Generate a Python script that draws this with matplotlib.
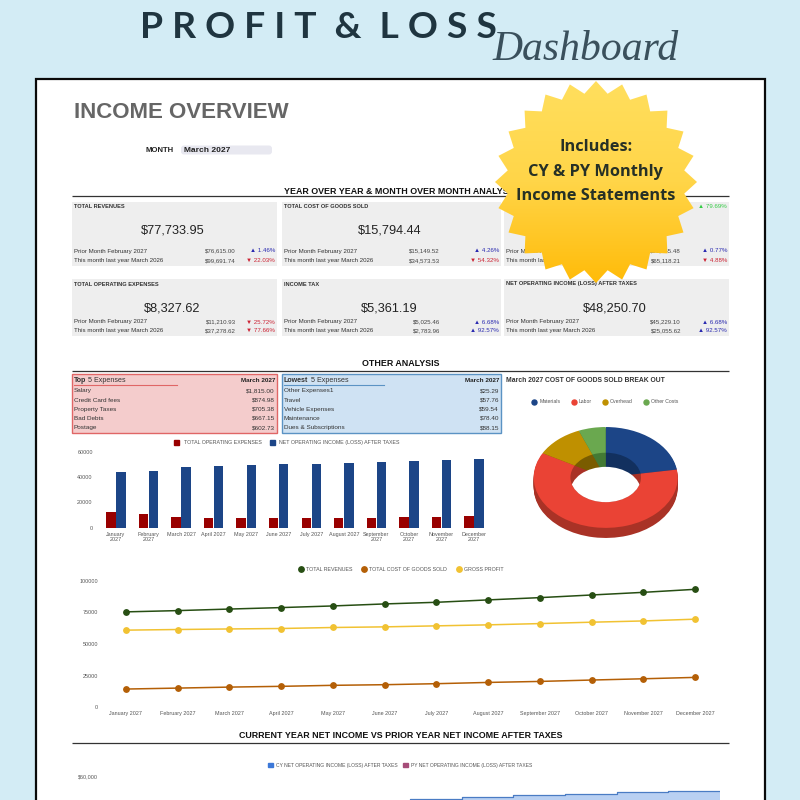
import matplotlib as mpl
import matplotlib.pyplot as plt
from matplotlib.lines import Line2D
from matplotlib.patches import Circle, Patch, Polygon, Rectangle
import numpy as np

mpl.rcParams["font.family"] = ["Liberation Sans", "DejaVu Sans"]

BG = "#d3ecf5"
W = H = 800

MONTHS_LONG = ["January 2027", "February 2027", "March 2027", "April 2027", "May 2027",
               "June 2027", "July 2027", "August 2027", "September 2027", "October 2027",
               "November 2027", "December 2027"]
MONTHS_WRAP = ["January\n2027", "February\n2027", "March 2027", "April 2027", "May 2027",
               "June 2027", "July 2027", "August 2027", "September\n2027", "October\n2027",
               "November\n2027", "December\n2027"]

# monthly series
opex = [12100, 11050, 8327, 8000, 7600, 7600, 7600, 8000, 8000, 8200, 8700, 9000]
net_income = [43700, 45000, 47600, 48400, 49200, 50000, 50500, 51300, 52100, 52600, 53400, 53900]
py_net_income = [21000, 23000, 25055, 25500, 26000, 26500, 27000, 27500, 28000, 28500, 29000, 29500]
revenues = [75500, 76500, 77733, 78900, 80200, 81800, 83100, 85000, 86800, 88900, 91000, 93400]
cogs = [14250, 15000, 15794, 16400, 17200, 17700, 18500, 19500, 20300, 21400, 22400, 23500]
gross_profit = [61000, 61500, 61940, 62300, 63100, 63600, 64400, 65200, 66200, 67300, 68300, 69700]

# KPI cards, row by row
card_titles = ["TOTAL REVENUES", "TOTAL COST OF GOODS SOLD", "GROSS PROFIT",
               "TOTAL OPERATING EXPENSES", "INCOME TAX", "NET OPERATING INCOME (LOSS) AFTER TAXES"]
card_values = ["$77,733.95", "$15,794.44", "$61,939.51", "$8,327.62", "$5,361.19", "$48,250.70"]
card_prior = ["$76,615.00", "$15,149.52", "$61,465.48", "$11,210.93", "$5,025.46", "$45,229.10"]
card_last_year = ["$99,691.74", "$34,573.53", "$65,118.21", "$37,278.62", "$2,783.96", "$25,055.62"]
card_prior_pct = [1.46, 4.26, 0.77, -25.72, 6.68, 6.68]
card_last_year_pct = [-22.03, -54.32, -4.88, -77.66, 92.57, 92.57]

top_names = ["Salary", "Credit Card fees", "Property Taxes", "Bad Debts", "Postage"]
top_values = ["$1,815.00", "$874.98", "$705.38", "$667.15", "$602.73"]
low_names = ["Other Expenses1", "Travel", "Vehicle Expenses", "Maintenance", "Dues & Subscriptions"]
low_values = ["$25.29", "$57.76", "$59.54", "$78.40", "$88.15"]

cost_labels = ["Materials", "Labor", "Overhead", "Other Costs"]
cost_shares = [22.5, 60.5, 10.9, 6.1]
cost_colors = ["#1c4587", "#ea4335", "#bf9000", "#6aa84f"]
cost_dark = ["#12305f", "#a93226", "#7a5c00", "#437a34"]


def axes_px(fig, x0, y0, x1, y1):
    """Axes from pixel box, y measured from the top of the picture."""
    ax = fig.add_axes([x0 / W, 1 - y1 / H, (x1 - x0) / W, (y1 - y0) / H])
    ax.patch.set_visible(False)
    return ax


def clean_axes(ax, size=3.9):
    for spine in ax.spines.values():
        spine.set_visible(False)
    ax.tick_params(length=0, labelsize=size, labelcolor="#555555", pad=1.5)


def legend_px(ax, handles, labels, x, y, size=3.8, **kwargs):
    ax.legend(handles, labels, loc="center", ncol=len(handles), frameon=False,
              bbox_to_anchor=(x / W, 1 - y / H), bbox_transform=ax.figure.transFigure,
              fontsize=size, labelcolor="#555555", borderpad=0, **kwargs)


fig = plt.figure(figsize=(8, 8), dpi=100, facecolor=BG)
page = fig.add_axes([0, 0, 1, 1])
page.set_axis_off()

# sheet
page.add_patch(Rectangle((36, 79), 729, 760, fc="w", ec="#0a0a0a", lw=1.6))

page.text(318, 27.5, "P R O F I T  &  L O S S", fontsize=26.8, fontfamily="Lato", fontweight="bold",
          color="#1f3540", ha="center", va="center")
page.text(492, 50, "Dashboard", fontsize=30, fontfamily="Liberation Serif", style="italic",
          color="#3a505c", ha="left", va="center")

page.text(74, 112, "INCOME OVERVIEW", fontsize=16, fontweight="bold", color="#666666",
          ha="left", va="center")
page.text(145, 150, "MONTH", fontsize=5.6, fontweight="bold", color="#222222", va="center")
page.add_patch(mpl.patches.FancyBboxPatch((181, 145.5), 91, 9, boxstyle="round,pad=0,rounding_size=3",
                                          fc="#e8e8f0", ec="none"))
page.text(184, 150, "March 2027", fontsize=6, fontweight="bold", color="#222222", va="center")


def section(y_text, y_rule, text, x=400.5, size=6.4):
    page.text(x, y_text, text, fontsize=size, fontweight="bold", color="#111111",
              ha="center", va="center")
    page.plot([72, 729], [y_rule, y_rule], color="#333333", lw=0.9, solid_capstyle="butt")


section(191, 195.7, "YEAR OVER YEAR & MONTH OVER MONTH ANALYSIS")
section(364, 370.7, "OTHER ANALYSIS")
section(736, 743, "CURRENT YEAR NET INCOME VS PRIOR YEAR NET INCOME AFTER TAXES")

# cards
card_x = [(72, 277), (282, 501), (504, 729)]
card_y = [(202, 266), (279, 336)]
value_right = [236, 440, 681]


def pct_text(value):
    return ("▲ " if value > 0 else "▼ ") + "{:.2f}%".format(abs(value))


for i, title in enumerate(card_titles):
    row, col = divmod(i, 3)
    x0, x1 = card_x[col]
    y0, y1 = card_y[row]
    page.add_patch(Rectangle((x0, y0), x1 - x0, y1 - y0, fc="#eeeeee", ec="none"))
    page.text(x0 + 2, y0 + 5, title, fontsize=4.1, fontweight="bold", color="#333333", va="center")
    big_y = 230.7 if row == 0 else 308.7
    page.text((x0 + x1) / 2 - 2, big_y, card_values[i], fontsize=9.2, color="#222222",
              ha="center", va="center")
    line_y = (251, 260.5) if row == 0 else (322, 330.5)
    rows = [("Prior Month February 2027", card_prior[i], card_prior_pct[i]),
            ("This month last year March 2026", card_last_year[i], card_last_year_pct[i])]
    for y, (label, amount, pct) in zip(line_y, rows):
        page.text(x0 + 2, y, label, fontsize=4.4, color="#333333", va="center")
        page.text(value_right[col], y, amount, fontsize=4.4, color="#444444", ha="right", va="center")
        page.text(x1 - 2, y, pct_text(pct), fontsize=4.4, ha="right", va="center",
                  color="#2a2ab0" if pct > 0 else "#cc2233")

# the green figure at the head of the hidden gross profit card
page.text(727, 206.7, pct_text(79.69), fontsize=4.4, color="#33cc44", ha="right", va="center")

# top / lowest tables
tables = [(72, 277, 177, "#f4cccc", "#e06666", "Top", 88, top_names, top_values),
          (282, 501, 384, "#cfe2f3", "#5b93c4", "Lowest", 311, low_names, low_values)]
row_y = [390.7, 400, 409, 418.3, 427.7]
for x0, x1, line_end, fill, edge, head, rest_x, names, values in tables:
    page.add_patch(Rectangle((x0, 374), x1 - x0, 59, fc=fill, ec=edge, lw=1))
    page.text(x0 + 2, 380, head, fontsize=5.1, fontweight="bold", color="#333333", va="center")
    page.text(rest_x, 380, "5 Expenses", fontsize=5.1, color="#333333", va="center")
    page.plot([x0 + 2, line_end], [385.3, 385.3], color=edge, lw=0.8)
    page.text(x1 - 2, 381, "March 2027", fontsize=4.6, fontweight="bold", color="#222222",
              ha="right", va="center")
    for y, name, value in zip(row_y, names, values):
        page.text(x0 + 2, y, name, fontsize=4.6, color="#333333", va="center")
        page.text(x1 - 2, y, value, fontsize=4.6, color="#333333", ha="right", va="center")

page.text(506, 380.7, "March 2027 COST OF GOODS SOLD BREAK OUT", fontsize=4.9, fontweight="bold",
          color="#333333", va="center")

# starburst over the cards
n_spikes = 24
angles = np.linspace(np.pi / 2, np.pi / 2 + 2 * np.pi, 2 * n_spikes, endpoint=False)
radii = np.where(np.arange(2 * n_spikes) % 2 == 0, 101, 89)
burst = Polygon(np.c_[596 + radii * np.cos(angles), 182 - radii * np.sin(angles)],
                closed=True, fc="none", ec="none", zorder=5)
page.add_patch(burst)
burst_map = mpl.colors.LinearSegmentedColormap.from_list("burst", ["#ffdf5e", "#ffd548", "#ffbb08"])
gradient = page.imshow(np.linspace(0, 1, 200)[:, None], cmap=burst_map, aspect="auto",
                       extent=(490, 702, 285, 79), zorder=5)
gradient.set_clip_path(burst)
for y, line in zip([147, 171.5, 196], ["Includes:", "CY & PY Monthly", "Income Statements"]):
    page.text(596, y, line, fontsize=11.8, fontfamily="Open Sans", fontweight="bold",
              color="#263026", ha="center", va="center", zorder=6)

page.set_xlim(0, W)
page.set_ylim(H, 0)

# bars
ax_bar = axes_px(fig, 99.7, 451.7, 490.3, 527.7)
x = np.arange(len(MONTHS_WRAP))
ax_bar.bar(x - 0.155, opex, 0.29, color="#990000")
ax_bar.bar(x + 0.155, net_income, 0.29, color="#1c4587")
ax_bar.set_xlim(-0.5, 11.5)
ax_bar.set_ylim(0, 60000)
ax_bar.set_yticks([0, 20000, 40000, 60000])
ax_bar.set_xticks(x, MONTHS_WRAP, linespacing=1.0)
clean_axes(ax_bar)
ax_bar.tick_params(axis="x", pad=2.8)
ax_bar.tick_params(axis="y", pad=5)
legend_px(ax_bar, [Patch(color="#990000"), Patch(color="#1c4587")],
          ["TOTAL OPERATING EXPENSES", "NET OPERATING INCOME (LOSS) AFTER TAXES"], 287, 442.7,
          handlelength=1, handleheight=1, handletextpad=0.8, columnspacing=1.6)

# 3d-looking doughnut
ax_pie = axes_px(fig, 533.7, 427 - 2.5, 677.7, 528 + 15)
r_in = 0.49
for depth in np.linspace(0.2, 0.02, 10):
    ax_pie.pie(cost_shares, colors=cost_dark, startangle=90, counterclock=False, center=(0, -depth))
ax_pie.pie(cost_shares, colors=cost_dark, startangle=90, counterclock=False, radius=r_in)
ax_pie.pie(cost_shares, colors=cost_colors, startangle=90, counterclock=False,
           wedgeprops={"width": 1 - r_in})
opening = Circle((0, -0.28), r_in, fc="w", ec="none", zorder=3)
ax_pie.add_patch(opening)
opening.set_clip_path(Circle((0, 0), r_in, transform=ax_pie.transData))
ax_pie.set_aspect("auto")
ax_pie.set_xlim(-1, 1)
ax_pie.set_ylim(-1.3, 1.05)
dots = [Line2D([], [], ls="none", marker="o", ms=3.6, color=c) for c in cost_colors]
legend_px(ax_pie, dots, cost_labels, 605, 402, size=3.7, handlelength=1, handletextpad=0.5, columnspacing=2.0)

# lines
ax_line = axes_px(fig, 100, 581, 721, 707)
line_styles = [(revenues, "#274e13", "TOTAL REVENUES"), (cogs, "#b45f06", "TOTAL COST OF GOODS SOLD"),
               (gross_profit, "#f1c232", "GROSS PROFIT")]
for series, color, label in line_styles:
    ax_line.plot(x, series, color=color, lw=1.1, marker="o", ms=3.9, label=label)
ax_line.set_xlim(-0.5, 11.5)
ax_line.set_ylim(0, 100000)
ax_line.set_yticks([0, 25000, 50000, 75000, 100000])
ax_line.set_xticks(x, MONTHS_LONG)
clean_axes(ax_line)
ax_line.tick_params(axis="x", pad=3)
dots = [Line2D([], [], ls="none", marker="o", ms=3.9, color=s[1]) for s in line_styles]
legend_px(ax_line, dots, [s[2] for s in line_styles], 401, 569.7, handlelength=1,
          handletextpad=0.5, columnspacing=1.7)

# area chart running off the bottom of the picture
ax_area = axes_px(fig, 100, 769.3, 720, 920.5)
edges = np.arange(13)
ax_area.fill_between(edges, net_income + net_income[-1:], step="post", color="#b9d0f2", lw=0)
ax_area.step(edges, net_income + net_income[-1:], where="post", color="#4a7cc4", lw=0.9)
ax_area.fill_between(edges, py_net_income + py_net_income[-1:], step="post", color="#d9b3c9", lw=0)
ax_area.set_xlim(0, 12)
ax_area.set_ylim(0, 63000)
ax_area.set_yticks([60000], ["$60,000"])
ax_area.set_xticks([])
clean_axes(ax_area)
legend_px(ax_area, [Patch(color="#3c78d8"), Patch(color="#a64d79")],
          ["CY NET OPERATING INCOME (LOSS) AFTER TAXES", "PY NET OPERATING INCOME (LOSS) AFTER TAXES"],
          400, 765, size=3.6, handlelength=1, handleheight=1, handletextpad=0.6, columnspacing=1.0)

fig.savefig("out.png", dpi=100, facecolor=BG)
